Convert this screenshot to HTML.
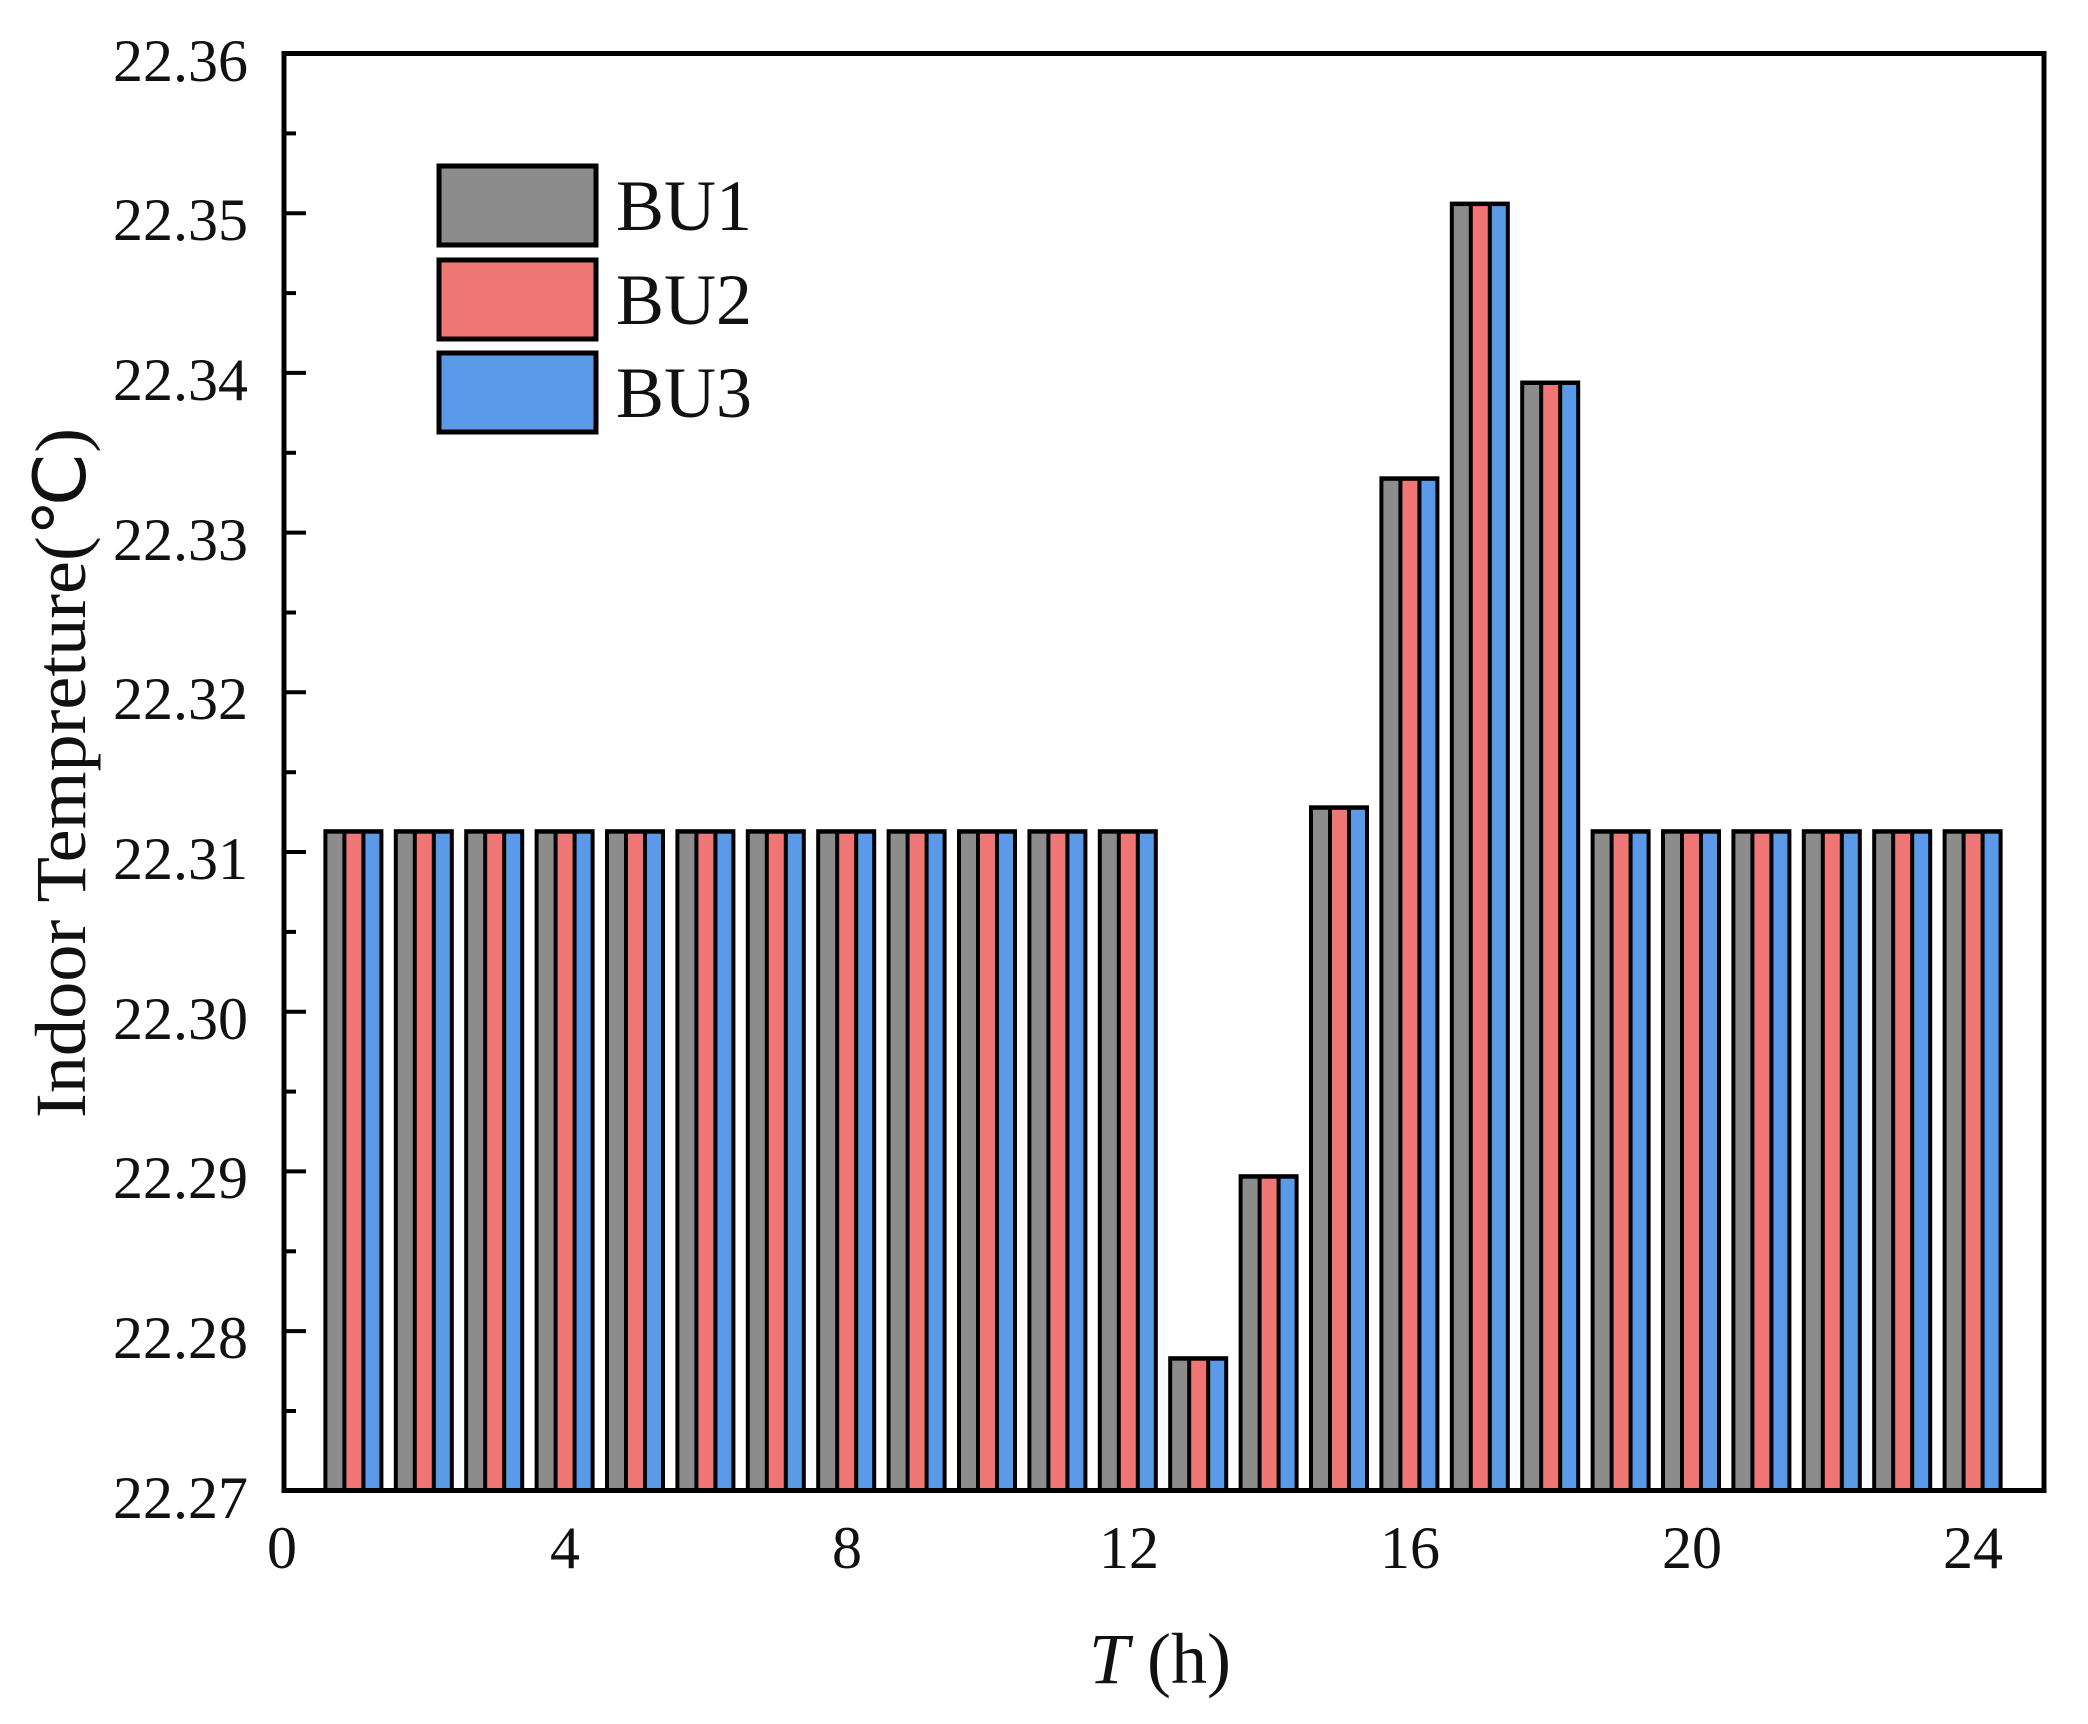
<!DOCTYPE html>
<html><head><meta charset="utf-8"><style>html,body{margin:0;padding:0;background:#fff}svg{display:block}</style></head>
<body>
<svg width="2088" height="1724" viewBox="0 0 2088 1724" xmlns="http://www.w3.org/2000/svg" xmlns:xlink="http://www.w3.org/1999/xlink" font-family="'Liberation Serif', serif">
<defs>
<g id="gb"><rect x="0" y="829.2" width="60" height="660.8" fill="#000"/><rect x="4" y="833.7" width="15" height="656.3" fill="#8c8c8c"/><rect x="23" y="833.7" width="15" height="656.3" fill="#f07575"/><rect x="42" y="833.7" width="14" height="656.3" fill="#5b9ae8"/></g>
<g id="g13"><rect x="0" y="1356.2" width="60" height="133.8" fill="#000"/><rect x="4" y="1360.7" width="15" height="129.3" fill="#8c8c8c"/><rect x="23" y="1360.7" width="15" height="129.3" fill="#f07575"/><rect x="42" y="1360.7" width="14" height="129.3" fill="#5b9ae8"/></g>
<g id="g14"><rect x="0" y="1174.2" width="60" height="315.8" fill="#000"/><rect x="4" y="1178.7" width="15" height="311.3" fill="#8c8c8c"/><rect x="23" y="1178.7" width="15" height="311.3" fill="#f07575"/><rect x="42" y="1178.7" width="14" height="311.3" fill="#5b9ae8"/></g>
<g id="g15"><rect x="0" y="805.3" width="60" height="684.7" fill="#000"/><rect x="4" y="809.8" width="15" height="680.2" fill="#8c8c8c"/><rect x="23" y="809.8" width="15" height="680.2" fill="#f07575"/><rect x="42" y="809.8" width="14" height="680.2" fill="#5b9ae8"/></g>
<g id="g16"><rect x="0" y="476.3" width="60" height="1013.7" fill="#000"/><rect x="4" y="480.8" width="15" height="1009.2" fill="#8c8c8c"/><rect x="23" y="480.8" width="15" height="1009.2" fill="#f07575"/><rect x="42" y="480.8" width="14" height="1009.2" fill="#5b9ae8"/></g>
<g id="g17"><rect x="0" y="201.6" width="60" height="1288.4" fill="#000"/><rect x="4" y="206.1" width="15" height="1283.9" fill="#8c8c8c"/><rect x="23" y="206.1" width="15" height="1283.9" fill="#f07575"/><rect x="42" y="206.1" width="14" height="1283.9" fill="#5b9ae8"/></g>
<g id="g18"><rect x="0" y="380.5" width="60" height="1109.5" fill="#000"/><rect x="4" y="385" width="15" height="1105" fill="#8c8c8c"/><rect x="23" y="385" width="15" height="1105" fill="#f07575"/><rect x="42" y="385" width="14" height="1105" fill="#5b9ae8"/></g>
</defs>
<rect width="2088" height="1724" fill="#fff"/>
<use xlink:href="#gb" href="#gb" x="323.4"/>
<use xlink:href="#gb" href="#gb" x="393.8"/>
<use xlink:href="#gb" href="#gb" x="464.2"/>
<use xlink:href="#gb" href="#gb" x="534.6"/>
<use xlink:href="#gb" href="#gb" x="605"/>
<use xlink:href="#gb" href="#gb" x="675.4"/>
<use xlink:href="#gb" href="#gb" x="745.8"/>
<use xlink:href="#gb" href="#gb" x="816.2"/>
<use xlink:href="#gb" href="#gb" x="886.6"/>
<use xlink:href="#gb" href="#gb" x="957"/>
<use xlink:href="#gb" href="#gb" x="1027.4"/>
<use xlink:href="#gb" href="#gb" x="1097.8"/>
<use xlink:href="#g13" href="#g13" x="1168.2"/>
<use xlink:href="#g14" href="#g14" x="1238.6"/>
<use xlink:href="#g15" href="#g15" x="1309"/>
<use xlink:href="#g16" href="#g16" x="1379.4"/>
<use xlink:href="#g17" href="#g17" x="1449.8"/>
<use xlink:href="#g18" href="#g18" x="1520.2"/>
<use xlink:href="#gb" href="#gb" x="1590.6"/>
<use xlink:href="#gb" href="#gb" x="1661"/>
<use xlink:href="#gb" href="#gb" x="1731.4"/>
<use xlink:href="#gb" href="#gb" x="1801.8"/>
<use xlink:href="#gb" href="#gb" x="1872.2"/>
<use xlink:href="#gb" href="#gb" x="1942.6"/>
<rect x="284" y="53.5" width="1760" height="1437" fill="none" stroke="#000" stroke-width="5"/>
<g stroke="#000" stroke-width="4">
<line x1="284" y1="213.2" x2="306" y2="213.2"/><line x1="284" y1="372.9" x2="306" y2="372.9"/>
<line x1="284" y1="532.6" x2="306" y2="532.6"/><line x1="284" y1="692.3" x2="306" y2="692.3"/>
<line x1="284" y1="852" x2="306" y2="852"/><line x1="284" y1="1011.7" x2="306" y2="1011.7"/>
<line x1="284" y1="1171.4" x2="306" y2="1171.4"/><line x1="284" y1="1331.1" x2="306" y2="1331.1"/>
<line x1="284" y1="133.4" x2="296" y2="133.4"/><line x1="284" y1="293.1" x2="296" y2="293.1"/>
<line x1="284" y1="452.8" x2="296" y2="452.8"/><line x1="284" y1="612.5" x2="296" y2="612.5"/>
<line x1="284" y1="772.2" x2="296" y2="772.2"/><line x1="284" y1="931.9" x2="296" y2="931.9"/>
<line x1="284" y1="1091.6" x2="296" y2="1091.6"/><line x1="284" y1="1251.3" x2="296" y2="1251.3"/>
<line x1="284" y1="1411" x2="296" y2="1411"/>
</g>
<g font-size="60" fill="#111" text-anchor="end">
<text x="248" y="81">22.36</text><text x="248" y="240">22.35</text><text x="248" y="400">22.34</text>
<text x="248" y="560">22.33</text><text x="248" y="719">22.32</text><text x="248" y="879">22.31</text>
<text x="248" y="1039">22.30</text><text x="248" y="1198">22.29</text><text x="248" y="1358">22.28</text>
<text x="248" y="1518">22.27</text>
</g>
<g font-size="60" fill="#111" text-anchor="middle">
<text x="282" y="1568">0</text><text x="565" y="1568">4</text><text x="847" y="1568">8</text>
<text x="1129" y="1568">12</text><text x="1410" y="1568">16</text><text x="1692" y="1568">20</text>
<text x="1973" y="1568">24</text>
</g>
<text x="1160" y="1683" font-size="72" text-anchor="middle" fill="#111"><tspan font-style="italic">T</tspan> (h)</text>
<text transform="translate(85,773) rotate(-90)" font-size="72" text-anchor="middle" fill="#111" textLength="690" lengthAdjust="spacingAndGlyphs">Indoor Tempreture(℃)</text>
<rect x="439" y="166" width="157" height="79" fill="#8c8c8c" stroke="#000" stroke-width="5"/>
<rect x="439" y="260" width="157" height="79" fill="#f07575" stroke="#000" stroke-width="5"/>
<rect x="439" y="353" width="157" height="79" fill="#5b9ae8" stroke="#000" stroke-width="5"/>
<g font-size="72" fill="#111">
<text x="616" y="230">BU1</text><text x="616" y="324">BU2</text><text x="616" y="417">BU3</text>
</g>
</svg>
</body></html>
